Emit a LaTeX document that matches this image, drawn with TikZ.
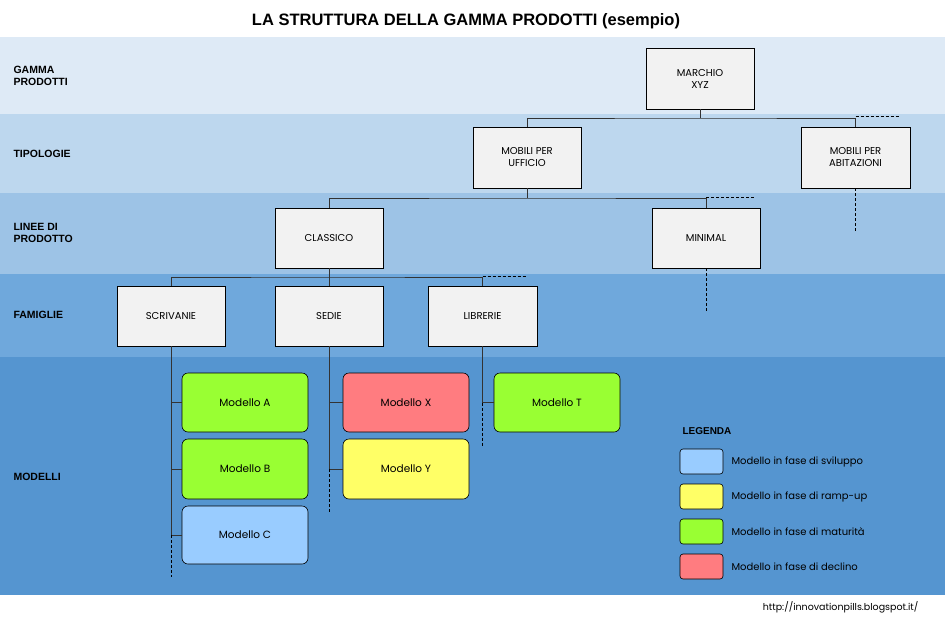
\documentclass[tikz,border=0pt]{standalone}
\usepackage{fontspec}
\setmainfont{Liberation Sans}
\newfontfamily\boxf{Poppins}
\begin{document}
\begin{tikzpicture}[x=1pt,y=-1pt,
  box/.style={draw=black,fill=boxgray,line width=0.6pt,font=\boxf\fontsize{10}{12}\selectfont,align=center,inner sep=0pt},
  mod/.style={draw=black,rounded corners=6pt,line width=0.6pt,font=\boxf\fontsize{10.5}{12}\selectfont,inner sep=0pt},
  lg/.style={draw=black,rounded corners=3pt,line width=0.6pt,minimum width=43pt,minimum height=25pt,inner sep=0pt},
  lgt/.style={font=\boxf\fontsize{10}{12}\selectfont,anchor=west},
  hdr/.style={font=\bfseries\fontsize{10.5}{12}\selectfont,align=left,anchor=west},
  ln/.style={line width=0.8pt,draw=black!80},
  dl/.style={line width=0.7pt,dashed,dash pattern=on 3pt off 2pt}]
\definecolor{boxgray}{HTML}{F2F2F2}
\definecolor{b1}{HTML}{DEEAF6}
\definecolor{b2}{HTML}{BDD7EE}
\definecolor{b3}{HTML}{9DC3E6}
\definecolor{b4}{HTML}{6FA8DC}
\definecolor{b5}{HTML}{5595D0}
\definecolor{cg}{HTML}{99FF33}
\definecolor{cr}{HTML}{FF7C80}
\definecolor{cy}{HTML}{FFFF66}
\definecolor{cb}{HTML}{99CCFF}
\useasboundingbox (0,0) rectangle (945,627);
\fill[white] (0,0) rectangle (945,627);
\fill[b1] (0,37) rectangle (945,114);
\fill[b2] (0,114) rectangle (945,193);
\fill[b3] (0,193) rectangle (945,274);
\fill[b4] (0,274) rectangle (945,357);
\fill[b5] (0,357) rectangle (945,595);
\node[font=\bfseries\fontsize{16.5}{18}\selectfont] (title) at (466,21) {LA STRUTTURA DELLA GAMMA PRODOTTI (esempio)};
\node[hdr] (h1) at (10,76) {GAMMA\\PRODOTTI};
\node[hdr] (h2) at (10,154) {TIPOLOGIE};
\node[hdr] (h3) at (10,233) {LINEE DI\\PRODOTTO};
\node[hdr] (h4) at (10,315) {FAMIGLIE};
\node[hdr] (h5) at (10,477) {MODELLI};
\node[font=\boxf\fontsize{9.5}{11}\selectfont,anchor=east] (url) at (922,607) {http://innovationpills.blogspot.it/};
% boxes
\node[box,minimum width=108pt,minimum height=61pt] (mx) at (700,78.5) {MARCHIO\\XYZ};
\node[box,minimum width=108pt,minimum height=61pt] (uf) at (527,157.5) {MOBILI PER\\UFFICIO};
\node[box,minimum width=109pt,minimum height=61pt] (ab) at (855.5,157.5) {MOBILI PER\\ABITAZIONI};
\node[box,minimum width=108pt,minimum height=60pt] (cl) at (329,238) {CLASSICO};
\node[box,minimum width=108pt,minimum height=60pt] (mi) at (706,238) {MINIMAL};
\node[box,minimum width=108pt,minimum height=60pt] (sc) at (171,316) {SCRIVANIE};
\node[box,minimum width=108pt,minimum height=60pt] (se) at (329,316) {SEDIE};
\node[box,minimum width=109pt,minimum height=60pt] (li) at (482.5,316) {LIBRERIE};
\node[mod,fill=cg,minimum width=126pt,minimum height=59pt] (ma) at (245,402.5) {Modello A};
\node[mod,fill=cg,minimum width=126pt,minimum height=60pt] (mb) at (245,469) {Modello B};
\node[mod,fill=cb,minimum width=126pt,minimum height=58pt] (mc) at (245,535) {Modello C};
\node[mod,fill=cr,minimum width=126pt,minimum height=59pt] (mX) at (406,402.5) {Modello X};
\node[mod,fill=cy,minimum width=126pt,minimum height=60pt] (mY) at (406,469) {Modello Y};
\node[mod,fill=cg,minimum width=126pt,minimum height=59pt] (mT) at (557,402.5) {Modello T};
% legend
\node[font=\bfseries\fontsize{10}{12}\selectfont,anchor=west] (lt) at (679,431) {LEGENDA};
\node[lg,fill=cb] (l1) at (701.5,461.5) {};
\node[lg,fill=cy] (l2) at (701.5,496.5) {};
\node[lg,fill=cg] (l3) at (701.5,531.5) {};
\node[lg,fill=cr] (l4) at (701.5,566.5) {};
\node[lgt] at (728,461.5) {Modello in fase di sviluppo};
\node[lgt] at (728,496.5) {Modello in fase di ramp-up};
\node[lgt] at (728,531.5) {Modello in fase di maturità};
\node[lgt] at (728,566.5) {Modello in fase di declino};
% connectors
\coordinate (j1) at (700,118);
\draw[ln] (mx.south) -- (j1);
\draw[ln] (uf.north) |- (j1) -| (ab.north);
\draw[dl] (ab.north) ++(0,-10) -- ++(43,0);
\draw[dl] (ab.south) -- ++(0,44);
\coordinate (j2) at (527,198);
\draw[ln] (uf.south) -- (j2);
\draw[ln] (cl.north) |- (j2) -| (mi.north);
\draw[dl] (mi.north) ++(0,-10) -- ++(48,0);
\draw[dl] (mi.south) -- ++(0,43);
\coordinate (j3) at (329,277);
\draw[ln] (cl.south) -- (j3);
\draw[ln] (sc.north) |- (j3) -| (li.north);
\draw[ln] (se.north) -- (j3);
\draw[dl] (li.north) ++(0,-9) -- ++(43,0);
\coordinate (s1) at (171,402.5);
\coordinate (s2) at (171,469);
\coordinate (s3) at (171,535);
\draw[ln] (sc.south) -- (s3);
\draw[ln] (s1) -- (ma.west); \draw[ln] (s2) -- (mb.west); \draw[ln] (s3) -- (mc.west);
\draw[dl] (s3) -- ++(0,42);
\coordinate (e1) at (329,402.5);
\coordinate (e2) at (329,469);
\draw[ln] (se.south) -- (e2);
\draw[ln] (e1) -- (mX.west); \draw[ln] (e2) -- (mY.west);
\draw[dl] (e2) -- ++(0,43);
\coordinate (t1) at (482.5,402.5);
\draw[ln] (li.south) -- (t1) -- (mT.west);
\draw[dl] (t1) -- ++(0,43);
\end{tikzpicture}
\end{document}
